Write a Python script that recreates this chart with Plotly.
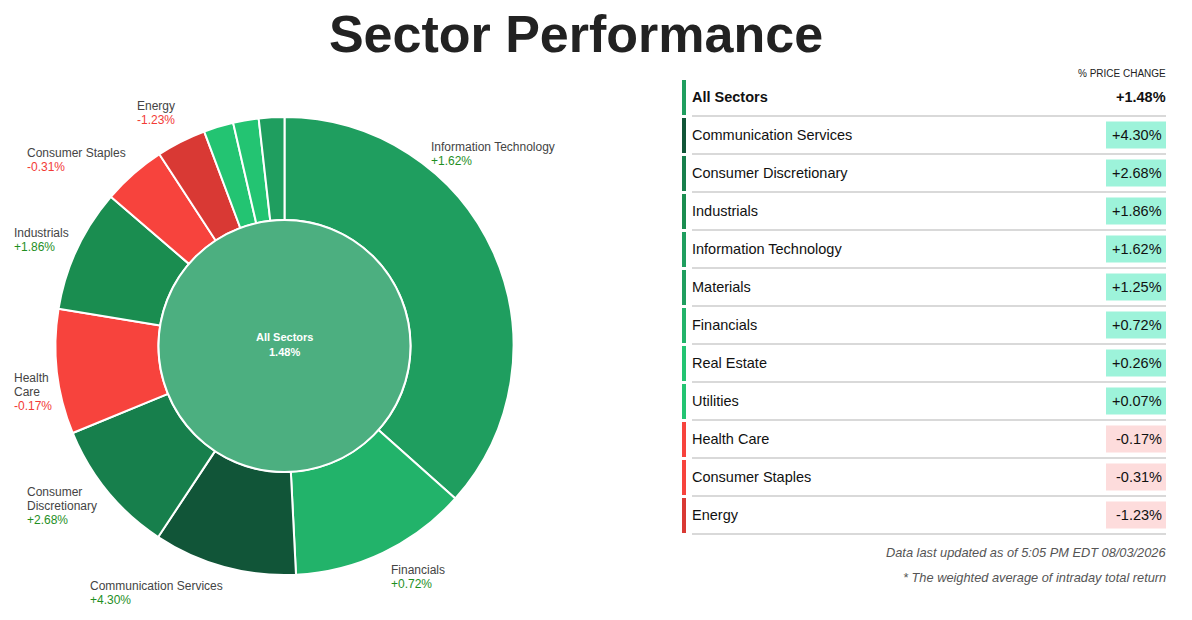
import plotly.graph_objects as go

# ---------------- data ----------------
sectors = ["Information Technology", "Financials", "Communication Services",
           "Consumer Discretionary", "Health Care", "Industrials",
           "Consumer Staples", "Energy", "Real Estate", "Utilities", "Materials"]
weights = [36.6, 12.6, 10.1, 9.5, 8.8, 8.7, 4.5, 3.5, 2.1, 1.8, 1.8]
changes = [1.62, 0.72, 4.30, 2.68, -0.17, 1.86, -0.31, -1.23, 0.26, 0.07, 1.25]
slice_colors = ["#1f9e5f", "#22b36a", "#115538", "#177f4c", "#f7433d", "#1a8d50",
                "#f7433d", "#d93934", "#23c472", "#23c472", "#1f9e5f"]

all_label = "All Sectors"
all_change = 1.48
all_color = "#4caf80"
all_bar_color = "#1f9e5f"

table_order = ["Communication Services", "Consumer Discretionary", "Industrials",
               "Information Technology", "Materials", "Financials", "Real Estate",
               "Utilities", "Health Care", "Consumer Staples", "Energy"]

title_text = "Sector Performance"
col_header = "% PRICE CHANGE"
footer1 = "Data last updated as of 5:05 PM EDT 08/03/2026"
footer2 = "* The weighted average of intraday total return"

# ---------------- layout constants (page pixel space) ----------------
OFF = 0                      # page body margin (removed via post_script)
W, H = 1192, 620
CX, CY = 284.5, 346.0        # donut centre (page px)
R_OUT, R_IN = 229.0, 126.0
FONT = "Liberation Sans"
POS_C, NEG_C = "#1f8f1f", "#f23b36"


def fmt(v):
    return f"{v:+.2f}%"


def dom(r):
    cx, cy = CX - OFF, CY - OFF
    return dict(x=[(cx - r) / W, (cx + r) / W],
                y=[(H - cy - r) / H, (H - cy + r) / H])


fig = go.Figure()

fig.add_trace(go.Pie(
    labels=sectors, values=weights, sort=False, direction="clockwise", rotation=0,
    hole=R_IN / R_OUT, domain=dom(R_OUT),
    marker=dict(colors=slice_colors, line=dict(color="white", width=2)),
    textinfo="none", hoverinfo="label+percent", showlegend=False))

fig.add_trace(go.Pie(
    labels=[all_label], values=[1], sort=False, domain=dom(R_IN),
    marker=dict(colors=[all_color], line=dict(color="white", width=2)),
    textinfo="none", hoverinfo="label", showlegend=False))

# invisible page-pixel axes for annotations / shapes
fig.update_xaxes(range=[OFF, OFF + W], visible=False, fixedrange=True)
fig.update_yaxes(range=[OFF + H, OFF], visible=False, fixedrange=True)

ann = []
shapes = []


def txt(x, y, s, size=12, color="#444", xanchor="left", **kw):
    ann.append(dict(x=x, y=y, xref="x", yref="y", text=s, showarrow=False,
                    xanchor=xanchor, yanchor="middle", borderpad=0, borderwidth=0,
                    font=dict(family=FONT, size=size, color=color), **kw))


# donut labels (name lines, then value line)
label_pos = {
    "Information Technology": (431, 147, ["Information Technology"]),
    "Financials": (391, 570, ["Financials"]),
    "Communication Services": (90, 586, ["Communication Services"]),
    "Consumer Discretionary": (27, 492, ["Consumer", "Discretionary"]),
    "Health Care": (14, 378, ["Health", "Care"]),
    "Industrials": (14, 233, ["Industrials"]),
    "Consumer Staples": (27, 153, ["Consumer Staples"]),
    "Energy": (137, 106, ["Energy"]),
}
for name, ch in zip(sectors, changes):
    if name not in label_pos:
        continue
    x0, y0, lines = label_pos[name]
    for i, ln in enumerate(lines):
        txt(x0, y0 + 14 * i, ln, 12, "#444")
    txt(x0, y0 + 14 * len(lines), fmt(ch), 12, POS_C if ch >= 0 else NEG_C)

# center label
txt(CX, CY - 9, f"<b>{all_label}</b>", 11, "white", xanchor="center")
txt(CX, CY + 6, f"<b>{all_change:.2f}%</b>", 11, "white", xanchor="center")

# ---------------- table ----------------
LX, RX, BX0, BX1 = 692, 1166, 682, 686
BADGE_W = 60
TS = 14.5
txt(RX, 73, col_header, 10, "#222", xanchor="right")

# All sectors row
yc = 97
shapes.append(dict(type="rect", xref="x", yref="y", x0=BX0, x1=BX1, y0=yc - 17, y1=yc + 18,
                   fillcolor=all_bar_color, line=dict(width=0)))
txt(LX, yc, f"<b>{all_label}</b>", TS, "#111")
txt(RX, yc, f"<b>{fmt(all_change)}</b>", TS, "#111", xanchor="right")
shapes.append(dict(type="line", xref="x", yref="y", x0=LX, x1=RX, y0=yc + 19, y1=yc + 19,
                   line=dict(color="#cccccc", width=1.5)))

for i, name in enumerate(table_order):
    k = sectors.index(name)
    ch = changes[k]
    yc = 135 + 38 * i
    shapes.append(dict(type="rect", xref="x", yref="y", x0=BX0, x1=BX1,
                       y0=yc - 17, y1=yc + 18, fillcolor=slice_colors[k], line=dict(width=0)))
    shapes.append(dict(type="rect", xref="x", yref="y", x0=RX - BADGE_W, x1=RX,
                       y0=yc - 13.5, y1=yc + 13.5,
                       fillcolor="#9df3da" if ch >= 0 else "#fddcdc", line=dict(width=0),
                       layer="below"))
    shapes.append(dict(type="line", xref="x", yref="y", x0=LX, x1=RX, y0=yc + 19, y1=yc + 19,
                       line=dict(color="#cccccc", width=1.5)))
    txt(LX, yc, name, TS, "#111")
    txt(RX - 4, yc, fmt(ch), TS, "#111", xanchor="right")

txt(RX, 552, f"<i>{footer1}</i>", 12.8, "#555", xanchor="right")
txt(RX, 577, f"<i>{footer2}</i>", 12.8, "#555", xanchor="right")

fig.update_layout(
    width=W, height=H, margin=dict(l=0, r=0, t=0, b=0),
    paper_bgcolor="white", plot_bgcolor="rgba(0,0,0,0)",
    title=dict(text=f"<b>{title_text}</b>", x=(576 - OFF) / W, xanchor="center",
               y=1 - (34 - OFF) / H, yanchor="middle", yref="container",
               font=dict(family=FONT, size=52, color="#222")),
    annotations=ann, shapes=shapes, showlegend=False,
    xaxis=dict(domain=[0, 1]), yaxis=dict(domain=[0, 1]),
)

fig.write_html("out.html", config={"displayModeBar": False},
               post_script="document.body.style.margin='0';document.body.style.overflow='hidden';")
